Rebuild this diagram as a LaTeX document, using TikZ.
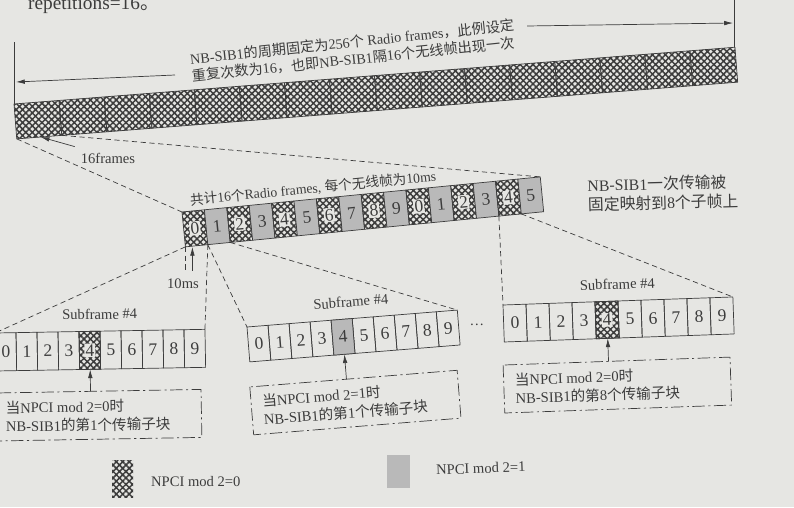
\documentclass[tikz,border=0pt]{standalone}
\usepackage{fontspec}
\setmainfont{Liberation Serif}
\newfontfamily\cjk{Noto Sans CJK SC}
\usetikzlibrary{calc,patterns.meta,arrows.meta}
\definecolor{paper}{RGB}{230,230,227}
\definecolor{ink}{RGB}{60,60,60}
\newcommand\txt{\fontsize{8.3}{10}\selectfont}
\newcommand\dig{\fontsize{10}{10}\selectfont}
\tikzset{
  hatch/.style={pattern={Hatch[angle=45,distance=2.6pt,line width=.85pt]},pattern color=ink},
  graycell/.style={fill=gray!55},
  plain/.style={},
  hatch dig/.style={fill=paper,inner sep=.6pt},
  graycell dig/.style={},
  plain dig/.style={},
  link/.style={densely dashed,thin},
  notebox/.style={thin,dash pattern=on 7pt off 2pt on 1.2pt off 2pt},
  tip/.style={-{Latex[length=5pt,width=2.6pt]}},
}
\begin{document}
\begin{tikzpicture}[x=.02cm,y=-.02cm,ink,thin,line join=round,font=\txt]
\useasboundingbox (0,0) rectangle (794,507);
\clip (0,0) rectangle (794,507);
\fill[paper] (0,0) rectangle (794,507);
\node[anchor=base west,font=\fontsize{11}{12}\selectfont] (rep) at (22,10) {repetitions=16{\cjk 。}};
% 256 radio frames, NB-SIB1 once every 16 frames
\begin{scope}[shift={(14,104)},rotate=4.5]
  \foreach \i in {0,...,15}\draw[hatch] (\i*45.2,0) rectangle ++(45.2,35);
  \path (0,0)coordinate(tTL) (723,0)coordinate(tTR) (0,35)coordinate(tBL) (45.2,35)coordinate(tB1) (24,35)coordinate(tF);
\end{scope}
\draw (tTL) -- ++(0,-62) coordinate(lEnd);
\draw (tTR) -- ++(0,-52) coordinate(rEnd);
\path (175,75)coordinate(la) (16,82)coordinate(lb) (527,26)coordinate(ra) (733,23)coordinate(rb);
\draw[tip] (la) -- (lb);
\draw[tip] (ra) -- (rb);
\node[anchor=north west,align=left,inner sep=0,rotate=6,font=\fontsize{8.1}{9.8}\selectfont] (period) at (189,52) {NB-SIB1{\cjk 的周期固定为}256{\cjk 个} Radio frames{\cjk ，此例设定}\\{\cjk 重复次数为}16{\cjk ，也即}NB-SIB1{\cjk 隔}16{\cjk 个无线帧出现一次}};
\node (nf) at (108,158) {16frames};
\draw[tip] (nf.north west) -- (tF);
% 16 radio frames of 10ms
\begin{scope}[shift={(182,212)},rotate=5.6,transform shape]
  \foreach \i in {0,...,15}{
    \pgfmathtruncatemacro\d{mod(\i,10)}
    \ifodd\i\def\c{graycell}\else\def\c{hatch}\fi
    \draw[\c] (\i*22.5,0) rectangle ++(22.5,35);
    \node[font=\dig,\c\space dig] at (\i*22.5+11.25,17.5) {\d};}
  \node[anchor=base west,font=\fontsize{7.8}{9}\selectfont] (rf) at (3,-6) {{\cjk 共计}16{\cjk 个}Radio frames, {\cjk 每个无线帧为}10ms};
  \path (0,0)coordinate(mTL) (360,0)coordinate(mTR) (0,35)coordinate(mB0) (22.5,35)coordinate(mB1) (45,35)coordinate(mB2) (315,35)coordinate(mB14) (337.5,35)coordinate(mB15);
\end{scope}
\draw[link] (tBL)--(mTL) (tB1)--(mTR);
\node (tenms) at (183,284) {10ms};
\draw[link] (mB0) -- ++(0,24);
\draw[tip] ($(mB0)+(7,24)$) -- ($(mB0)+(7,0)$);
\node[anchor=north west,align=left,font=\fontsize{9}{11}\selectfont,rotate=1.5] (map) at (581,172) {NB-SIB1{\cjk 一次传输被}\\{\cjk 固定映射到}8{\cjk 个子帧上}};
% subframes
\foreach \n/\x/\y/\a/\w/\h/\s/\m/\k in {L/-5/333/1/21/38/hatch/0/1,C/247/327/4.6/21.1/35/graycell/1/1,R/503/305/2/23/37/hatch/0/8}{
\begin{scope}[shift={(\x,\y)},rotate=\a,transform shape]
  \foreach \j in {0,...,9}\draw (\j*\w,0) rectangle ++(\w,\h);
  \draw[\s] (4*\w,0) rectangle ++(\w,\h);
  \foreach \j in {0,...,9}{
    \ifnum\j=4\edef\c{\s}\else\def\c{plain}\fi
    \node[font=\dig,\c\space dig] at (\j*\w+\w/2,\h/2) {\j};}
  \node (\n-sf) at (5*\w,-17) {Subframe \#4};
  \draw[notebox] (-2,60) rectangle (10*\w-5,108);
  \node[anchor=north west,align=left,inner sep=0,font=\fontsize{8.3}{10.5}\selectfont] (\n-txt) at (9,68) {{\cjk 当}NPCI mod 2=\m{\cjk 时}\\NB-SIB1{\cjk 的第}\k{\cjk 个传输子块}};
  \draw[tip] (4.5*\w,60) -- (4.5*\w,\h);
  \path (0,0)coordinate(\n-tl) (10*\w,0)coordinate(\n-tr);
\end{scope}}
\draw[link] (mB0)--(L-tl) (mB1)--(L-tr) (mB1)--(C-tl) (mB2)--(C-tr) (mB14)--(R-tl) (mB15)--(R-tr);
\node (dots) at (477,325) {\dots};
% legend
\path[hatch] (112,460) rectangle (133,497);
\node[anchor=west] (k0) at (145,482) {NPCI mod 2=0};
\fill[gray!55] (387,455) rectangle (410,488);
\node[anchor=west,rotate=2] (k1) at (430,470) {NPCI mod 2=1};
\end{tikzpicture}
\end{document}
